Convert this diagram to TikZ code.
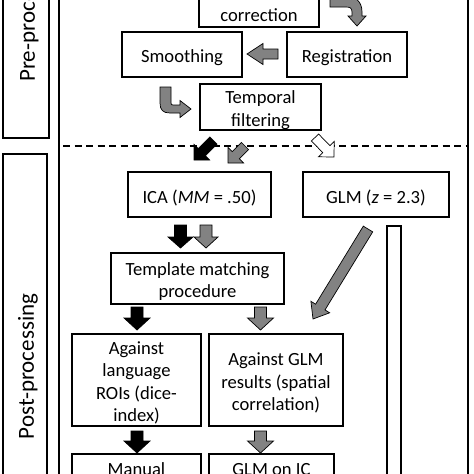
\documentclass[tikz,border=0pt]{standalone}
\usepackage{fontspec}
\setmainfont{Carlito}
\usetikzlibrary{calc}
\definecolor{arrgray}{RGB}{130,130,130}
\tikzset{
  box/.style={draw, line width=1.2pt, fill=white, inner sep=0pt},
  txt/.style={inner sep=0pt, align=center, font=\fontsize{18.6}{22.5}\selectfont},
  intxt/.style={txt, yshift=-3pt},
  side/.style={inner sep=0pt, rotate=90, font=\fontsize{23}{27}\selectfont},
  frame/.style={draw, line width=1.1pt},
  garr/.style={draw, line width=0.7pt, fill=arrgray, line join=miter},
  karr/.style={draw, line width=0.7pt, fill=black, line join=miter},
  warr/.style={draw, line width=0.7pt, fill=white, line join=miter},
  sep/.style={line width=1.2pt, dash pattern=on 7pt off 4.5pt},
}
% block arrow: style, tail centre, tip, shaft half width, head half width, head length
\newcommand\blkarrow[6]{%
  \coordinate (ba) at ($(#3)!#6!(#2)$);
  \draw[#1] ($(#2)!#4!90:(#3)$) -- ($(ba)!#4!90:(#3)$) -- ($(ba)!#5!90:(#3)$)
    -- (#3) -- ($(ba)!#5!-90:(#3)$) -- ($(ba)!#4!-90:(#3)$)
    -- ($(#2)!#4!-90:(#3)$) -- cycle;}
% box with text: name, centre x, centre y, width, height, text
\newcommand\stepnode[6]{%
  \node[box, minimum width=#4pt, minimum height=#5pt] (#1) at (#2,#3) {};
  \node[intxt] (#1txt) at (#1.center) {#6};}
\begin{document}
\begin{tikzpicture}[x=1pt,y=-1pt]
\useasboundingbox (0,0) rectangle (474,474);
\clip (0,0) rectangle (474,474);
% side label boxes
\node[frame, minimum width=46pt, minimum height=258pt] (prebox) at (26,9) {};
\node[side] (pretxt) at (29,13) {Pre-processing};
\node[frame, minimum width=44pt, minimum height=446pt] (postbox) at (25,377) {};
\node[side] (posttxt) at (28,366.5) {Post-processing};
% main frame
\node[frame, minimum width=409pt, minimum height=620pt] (mainframe) at (263.5,290) {};
\coordinate (sepL) at (63,146);
\coordinate (sepR) at (467,146);
\draw[sep] (sepL) -- (sepR);
% boxes
\node[box, minimum width=120pt, minimum height=47pt] (corr) at (259,3.5) {};
\node[txt, anchor=base] (corrtxt) at (259,21) {correction};
\stepnode{smooth}{182}{54.5}{120}{45}{Smoothing}
\stepnode{reg}{347}{54.5}{120}{45}{Registration}
\stepnode{temp}{260.5}{107}{121}{46}{Temporal\\filtering}
\stepnode{ica}{199.5}{194.5}{143}{45}{ICA (\textit{MM} = .50)}
\stepnode{glm}{376}{194.5}{146}{45}{GLM (\textit{z} = 2.3)}
\stepnode{tmpl}{197.5}{278.5}{173}{51}{Template matching\\procedure}
\stepnode{lang}{136.5}{380}{129}{92}{Against\\language\\ROIs (dice-\\index)}
\stepnode{glmres}{276}{380}{134}{92}{Against GLM\\results (spatial\\correlation)}
\node[box, minimum width=129pt, minimum height=86pt] (manual) at (136.5,497) {};
\node[txt, anchor=base] (manualtxt) at (136.5,475.5) {Manual};
\node[box, minimum width=125pt, minimum height=86pt] (glmic) at (271.5,497) {};
\node[txt, anchor=base] (glmictxt) at (271.5,475.5) {GLM on IC};
\node[box, minimum width=14pt, minimum height=334pt] (narrow) at (394,393) {};
% bent arrow into registration
\draw[garr] (330,-4) -- (345,-4) .. controls (356,-4) and (362,2) .. (362,12)
  -- (362,16) -- (366,16) -- (357,26) -- (348,16) -- (352,16) -- (352,12)
  .. controls (352,8) and (350,7) .. (346,7) -- (330,7) -- cycle;
% registration -> smoothing
\coordinate (a1t) at (278,54); \coordinate (a1h) at (247,54);
\blkarrow{garr}{a1t}{a1h}{5pt}{10.5pt}{16pt}
% bent arrow smoothing -> temporal
\draw[garr] (160,87) -- (160,103) .. controls (160,110) and (163,113) .. (170,113)
  -- (180,113) -- (180,117.5) -- (191,109) -- (180,100.5) -- (180,105) -- (173,105)
  .. controls (171.5,105) and (171,104.5) .. (171,103) -- (171,87) -- cycle;
% arrows across the separator
\coordinate (d1t) at (213.5,140.5); \coordinate (d1h) at (194,160);
\blkarrow{karr}{d1t}{d1h}{5pt}{11pt}{11pt}
\coordinate (d2t) at (245,146); \coordinate (d2h) at (228,163);
\blkarrow{garr}{d2t}{d2h}{5pt}{11pt}{11pt}
\coordinate (d3t) at (315,137.5); \coordinate (d3h) at (334,157);
\blkarrow{warr}{d3t}{d3h}{5pt}{11pt}{11pt}
% ICA -> template
\coordinate (e1t) at (180.5,225); \coordinate (e1h) at (180.5,248);
\blkarrow{karr}{e1t}{e1h}{6pt}{12.5pt}{11pt}
\coordinate (e2t) at (206,225); \coordinate (e2h) at (206,248);
\blkarrow{garr}{e2t}{e2h}{6pt}{12pt}{11pt}
% GLM -> against GLM results
\coordinate (g1t) at (368,229); \coordinate (g1h) at (313,319);
\blkarrow{garr}{g1t}{g1h}{5.5pt}{11pt}{14pt}
% template -> checks
\coordinate (f1t) at (137,307); \coordinate (f1h) at (137,330);
\blkarrow{karr}{f1t}{f1h}{6pt}{13pt}{12pt}
\coordinate (f2t) at (260.5,307); \coordinate (f2h) at (260.5,330);
\blkarrow{garr}{f2t}{f2h}{6pt}{13pt}{12pt}
% checks -> next
\coordinate (h1t) at (137,431); \coordinate (h1h) at (137,453);
\blkarrow{karr}{h1t}{h1h}{6pt}{13pt}{12pt}
\coordinate (h2t) at (260.5,431); \coordinate (h2h) at (260.5,453);
\blkarrow{garr}{h2t}{h2h}{6pt}{13pt}{12pt}
\end{tikzpicture}
\end{document}
